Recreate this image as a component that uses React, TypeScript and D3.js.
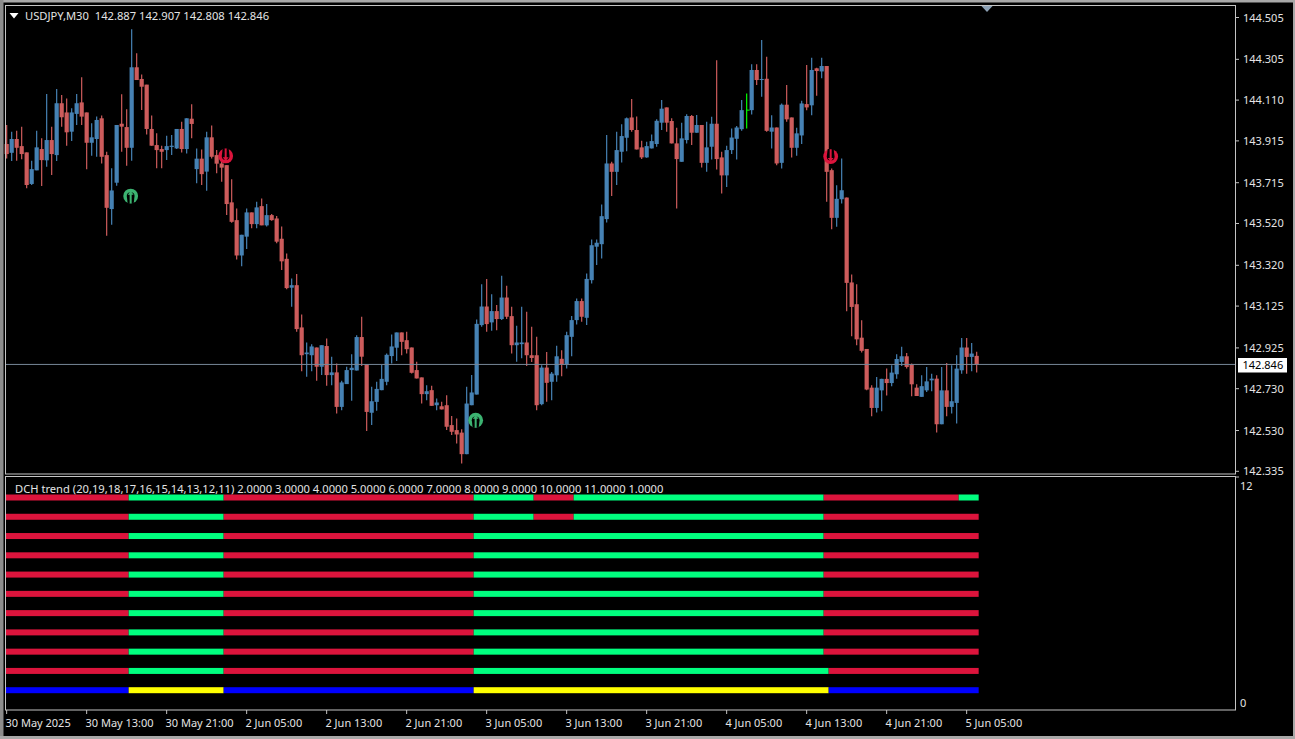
import * as d3 from "d3";

// MT4 chart, USDJPY M30, one row per 10 bars
const opens = [
  143.900, 143.858, 143.924, 143.890, 143.860, 143.709, 143.774, 143.876, 143.822, 143.919,
  143.847, 144.095, 144.051, 143.959, 144.044, 144.099, 144.051, 143.906, 143.924, 144.023,
  143.847, 143.589, 143.715, 143.997, 143.981, 143.882, 144.267, 144.211, 144.184, 143.972,
  143.895, 143.876, 143.871, 143.886, 143.879, 143.972, 143.876, 144.021, 143.780, 143.830,
  143.768, 143.932, 143.847, 143.807, 143.799, 143.621, 143.536, 143.367, 143.457, 143.573,
  143.517, 143.603, 143.511, 143.560, 143.544, 143.447, 143.351, 143.213, 143.225, 143.023,
  142.895, 142.890, 142.927, 142.835, 142.934, 142.795, 142.808, 142.643, 142.752, 142.819,
  142.817, 142.977, 142.847, 142.615, 142.667, 142.723, 142.763, 142.886, 142.926, 142.999,
  142.962, 142.927, 142.819, 142.784, 142.704, 142.723, 142.651, 142.646, 142.651, 142.556,
  142.532, 142.520, 142.417, 142.651, 142.702, 143.034, 143.123, 143.047, 143.101, 143.063,
  143.166, 143.077, 142.938, 142.943, 142.951, 142.890, 142.890, 142.656, 142.831, 142.763,
  142.794, 142.873, 142.847, 142.978, 143.058, 143.149, 143.069, 143.249, 143.409, 143.421,
  143.541, 143.807, 143.767, 143.863, 143.930, 144.027, 143.967, 143.884, 143.836, 143.879,
  143.900, 144.002, 144.075, 144.010, 143.903, 143.815, 143.919, 144.034, 143.954, 143.991,
  143.810, 143.887, 143.997, 143.836, 143.750, 143.871, 143.925, 143.971, 144.062, 144.062,
  144.254, 144.206, 144.212, 143.959, 143.979, 143.810, 144.088, 144.027, 143.882, 143.941,
  144.091, 144.085, 144.262, 144.247, 144.273, 143.775, 143.547, 143.636, 143.644, 143.238,
  143.134, 142.974, 142.920, 142.735, 142.638, 142.722, 142.777, 142.757, 142.799, 142.858,
  142.885, 142.845, 142.735, 142.691, 142.722, 142.770, 142.778, 142.560, 142.722, 142.643,
  142.662, 142.818, 142.927, 142.882, 142.887,
];
const highs = [
  143.991, 143.959, 143.964, 143.983, 143.860, 143.820, 143.964, 143.927, 144.139, 143.983,
  144.163, 144.134, 144.118, 144.071, 144.139, 144.219, 144.051, 143.999, 144.031, 144.036,
  143.863, 143.784, 143.991, 144.138, 144.066, 144.449, 144.334, 144.233, 144.184, 144.036,
  143.951, 143.892, 143.940, 143.943, 143.972, 144.007, 144.023, 144.090, 143.879, 143.874,
  143.959, 143.988, 143.871, 143.863, 143.799, 143.731, 143.592, 143.466, 143.592, 143.573,
  143.624, 143.640, 143.613, 143.565, 143.556, 143.505, 143.377, 143.257, 143.278, 143.085,
  142.951, 142.943, 142.927, 142.938, 142.970, 142.883, 142.851, 142.768, 142.835, 142.895,
  142.986, 143.074, 142.847, 142.739, 142.763, 142.843, 142.898, 142.989, 142.999, 142.999,
  143.002, 142.927, 142.859, 142.784, 142.747, 142.744, 142.683, 142.667, 142.699, 142.600,
  142.587, 142.536, 142.739, 142.795, 143.061, 143.230, 143.254, 143.182, 143.130, 143.270,
  143.222, 143.122, 143.031, 143.122, 143.098, 143.026, 142.978, 142.842, 142.906, 142.810,
  142.935, 142.914, 143.002, 143.078, 143.161, 143.161, 143.281, 143.444, 143.444, 143.611,
  143.943, 143.815, 143.959, 143.994, 144.027, 144.115, 144.031, 143.916, 143.911, 143.946,
  144.018, 144.110, 144.075, 144.023, 143.978, 144.002, 144.042, 144.039, 144.039, 143.991,
  144.006, 144.030, 144.301, 143.863, 143.892, 143.974, 143.986, 144.110, 144.142, 144.282,
  144.282, 144.397, 144.317, 144.038, 143.979, 144.094, 144.182, 144.027, 143.978, 144.107,
  144.278, 144.313, 144.265, 144.313, 144.273, 143.783, 143.703, 143.831, 143.644, 143.276,
  143.230, 143.057, 142.920, 142.746, 142.786, 142.778, 142.826, 142.842, 142.895, 142.930,
  142.901, 142.850, 142.751, 142.794, 142.834, 142.802, 142.794, 142.834, 142.853, 142.842,
  142.890, 142.973, 142.973, 142.949, 142.907,
];
const lows = [
  143.831, 143.819, 143.820, 143.827, 143.688, 143.704, 143.774, 143.699, 143.791, 143.752,
  143.819, 143.983, 143.892, 143.914, 143.991, 143.991, 143.779, 143.844, 143.839, 143.807,
  143.461, 143.514, 143.701, 143.863, 143.796, 143.820, 144.206, 144.063, 143.946, 143.892,
  143.784, 143.784, 143.823, 143.847, 143.876, 143.860, 143.855, 143.927, 143.712, 143.704,
  143.677, 143.831, 143.760, 143.720, 143.560, 143.524, 143.348, 143.316, 143.398, 143.497,
  143.497, 143.511, 143.505, 143.533, 143.425, 143.297, 143.205, 143.122, 143.002, 142.814,
  142.787, 142.814, 142.768, 142.795, 142.744, 142.747, 142.611, 142.627, 142.752, 142.672,
  142.817, 142.839, 142.528, 142.556, 142.624, 142.723, 142.747, 142.851, 142.862, 142.890,
  142.898, 142.803, 142.779, 142.659, 142.675, 142.648, 142.627, 142.631, 142.532, 142.508,
  142.468, 142.372, 142.417, 142.651, 142.702, 143.026, 143.002, 143.007, 143.010, 143.058,
  143.063, 142.898, 142.859, 142.875, 142.839, 142.858, 142.627, 142.651, 142.667, 142.675,
  142.763, 142.790, 142.826, 142.885, 143.037, 143.050, 143.034, 143.233, 143.321, 143.353,
  143.525, 143.651, 143.704, 143.812, 143.866, 143.959, 143.874, 143.828, 143.834, 143.879,
  143.887, 143.967, 143.959, 143.903, 143.592, 143.815, 143.903, 143.895, 143.954, 143.788,
  143.767, 143.826, 143.778, 143.663, 143.695, 143.852, 143.826, 143.963, 143.974, 144.041,
  144.182, 144.126, 143.959, 143.879, 143.799, 143.783, 144.006, 143.836, 143.844, 143.900,
  144.062, 144.038, 144.131, 144.214, 143.624, 143.493, 143.504, 143.616, 143.100, 142.981,
  142.938, 142.903, 142.722, 142.598, 142.616, 142.622, 142.698, 142.742, 142.778, 142.839,
  142.826, 142.694, 142.695, 142.691, 142.714, 142.718, 142.520, 142.560, 142.598, 142.611,
  142.563, 142.802, 142.802, 142.813, 142.808,
];
const closes = [
  143.852, 143.924, 143.882, 143.852, 143.704, 143.780, 143.884, 143.823, 143.919, 143.852,
  144.095, 144.028, 143.956, 144.051, 144.095, 144.031, 143.906, 143.932, 144.015, 143.839,
  143.595, 143.678, 143.991, 143.983, 143.882, 144.267, 144.206, 144.174, 143.972, 143.892,
  143.871, 143.863, 143.890, 143.892, 143.972, 143.876, 144.023, 143.996, 143.830, 143.756,
  143.932, 143.839, 143.806, 143.787, 143.613, 143.528, 143.367, 143.466, 143.573, 143.517,
  143.597, 143.511, 143.560, 143.536, 143.433, 143.339, 143.211, 143.225, 143.015, 142.890,
  142.903, 142.932, 142.835, 142.938, 142.795, 142.808, 142.643, 142.760, 142.819, 142.830,
  142.977, 142.883, 142.619, 142.670, 142.729, 142.777, 142.892, 142.932, 142.999, 142.954,
  142.919, 142.806, 142.779, 142.704, 142.718, 142.648, 142.664, 142.631, 142.548, 142.524,
  142.511, 142.417, 142.659, 142.712, 143.040, 143.123, 143.039, 143.101, 143.063, 143.166,
  143.074, 142.938, 142.951, 142.951, 142.890, 142.877, 142.651, 142.831, 142.758, 142.802,
  142.885, 142.847, 142.986, 143.058, 143.149, 143.074, 143.255, 143.416, 143.428, 143.555,
  143.807, 143.767, 143.871, 143.938, 144.023, 143.967, 143.874, 143.836, 143.890, 143.914,
  144.011, 144.069, 144.002, 143.903, 143.828, 143.927, 144.034, 143.954, 143.991, 143.810,
  143.884, 143.997, 143.828, 143.750, 143.871, 143.931, 143.979, 144.062, 144.062, 144.254,
  144.206, 144.211, 143.963, 143.979, 143.807, 144.088, 144.018, 143.882, 143.951, 144.094,
  144.075, 144.254, 144.249, 144.273, 143.767, 143.547, 143.638, 143.679, 143.236, 143.121,
  142.966, 142.911, 142.726, 142.638, 142.735, 142.777, 142.757, 142.807, 142.872, 142.885,
  142.834, 142.751, 142.695, 142.742, 142.765, 142.778, 142.560, 142.722, 142.643, 142.670,
  142.826, 142.927, 142.882, 142.898, 142.846,
];

const priceTicks = [144.505, 144.305, 144.11, 143.915, 143.715, 143.52, 143.32, 143.125, 142.925, 142.73, 142.53, 142.335];
const lastPrice = 142.846;

// bar index of every 16th bar along the time axis
const timeLabels = [
  "30 May 2025", "30 May 13:00", "30 May 21:00", "2 Jun 05:00", "2 Jun 13:00", "2 Jun 21:00", "3 Jun 05:00",
  "3 Jun 13:00", "3 Jun 21:00", "4 Jun 05:00", "4 Jun 13:00", "4 Jun 21:00", "5 Jun 05:00",
];

const upSignals = [
  { bar: 25, price: 143.651 },
  { bar: 94, price: 142.579 },
];
const downSignals = [
  { bar: 44, price: 143.843 },
  { bar: 165, price: 143.84 },
];

// DCH trend lines: level, then the bars where the colour flips (starts down)
const trendLevels = [11, 10, 9, 8, 7, 6, 5, 4, 3, 2];
const trendFlips = [
  [25, 44, 94, 106, 114, 164, 191],
  [25, 44, 94, 106, 114, 164],
  [25, 44, 94, 164],
  [25, 44, 94, 164],
  [25, 44, 94, 164],
  [25, 44, 94, 164],
  [25, 44, 94, 164],
  [25, 44, 94, 164],
  [25, 44, 94, 164],
  [25, 44, 94, 165],
];
const sumLevel = 1;
const sumFlips = [25, 44, 94, 165];

const legend = "DCH trend (20,19,18,17,16,15,14,13,12,11) 2.0000 3.0000 4.0000 5.0000 6.0000 7.0000 8.0000 9.0000 10.0000 11.0000 1.0000";

const W = 1295;
const H = 739;
const FONT = "'Noto Sans', sans-serif";
const TXT = "#e4e4e4";
const FRAME = "#c4c4c4";
const UP = "#4682B4";
const DOWN = "#CD5C5C";

const x = d3.scaleLinear().domain([0, 194]).range([6.67, 976.67]);
const y = d3.scaleLinear().domain([142.335, 144.505]).range([471.3, 17.5]);
const ySub = d3.scaleLinear().domain([1, 11]).range([690.2, 497.5]);

function segments(flips: number[]) {
  const edges = [0, ...flips, 195];
  return d3.pairs(edges).map(([a, b], k) => ({ a, b, on: k % 2 === 1 }));
}

function segLeft(i: number) {
  return i === 0 ? 6 : x(i) - 3;
}

function Signal({ bar, price, up, color }: { bar: number; price: number; up: boolean; color: string }) {
  return (
    <g transform={`translate(${x(bar) - 1},${y(price)}) scale(1,${up ? 1 : -1})`}>
      <circle r={7.4} fill={color} />
      <path d="M-3.9,0 A3.9,3.9 0 0 1 3.9,0 L3,7.6 L-3,7.6 Z" fill="#000" />
      <path d="M0,-5 L3,-1.4 L1,-1.4 L1,7.4 L-1,7.4 L-1,-1.4 L-3,-1.4 Z" fill={color} />
    </g>
  );
}

export default function App() {
  document.body.style.margin = "0";
  const lastY = y(lastPrice);
  return (
    <svg width={W} height={H} style={{ position: "absolute", left: 0, top: 0, display: "block" }} fontFamily={FONT} fontSize={11}>
      <rect width={W} height={H} fill="#000" />
      {/* window chrome */}
      <rect x={0} y={0} width={W} height={2.5} fill="#a8a8a8" />
      <rect x={0} y={0} width={3.5} height={H} fill="#8c8c8c" />
      <rect x={0} y={736} width={W} height={3} fill="#a8a8a8" />
      <rect x={1293} y={0} width={2} height={H} fill="#a8a8a8" />

      {/* candles */}
      {opens.map((o, i) => {
        const c = closes[i];
        const flat = o === c;
        const col = flat ? "#00FF00" : c > o ? UP : DOWN;
        const top = y(Math.max(o, c));
        const bottom = y(Math.min(o, c));
        return (
          <g key={i}>
            <line x1={x(i)} x2={x(i)} y1={y(highs[i])} y2={y(lows[i])} stroke={col} strokeWidth={1.2} />
            {flat ? (
              <line x1={x(i)} x2={x(i) + 3} y1={top} y2={top} stroke={col} strokeWidth={1} />
            ) : (
              <rect x={x(i) - 2.1} y={top} width={4.2} height={Math.max(bottom - top, 1)} fill={col} />
            )}
          </g>
        );
      })}

      {upSignals.map((s) => (
        <Signal key={s.bar} bar={s.bar} price={s.price} up color="#3CB371" />
      ))}
      {downSignals.map((s) => (
        <Signal key={s.bar} bar={s.bar} price={s.price} up={false} color="#DC143C" />
      ))}

      {/* last price line */}
      <line x1={6} x2={1235} y1={lastY} y2={lastY} stroke="#778899" strokeWidth={1} />

      {/* header */}
      <path d="M9.5,13 L18.5,13 L14,18.5 Z" fill="#fff" />
      <text x={25} y={20} fill={TXT} fontSize={11.2} xmlSpace="preserve">USDJPY,M30  142.887 142.907 142.808 142.846</text>
      <path d="M981,5.5 L993,5.5 L987,12 Z" fill="#8ca0b4" />

      {/* panel frames */}
      <rect x={5.5} y={5.5} width={1230} height={468.5} fill="none" stroke={FRAME} />
      <rect x={5.5} y={476.5} width={1230} height={233.5} fill="none" stroke={FRAME} />

      {/* price axis */}
      {priceTicks.map((p) => (
        <g key={p}>
          <line x1={1236} x2={1239} y1={y(p)} y2={y(p)} stroke={FRAME} />
          <text x={1243} y={y(p) + 4} fill={TXT}>{p.toFixed(3)}</text>
        </g>
      ))}
      <rect x={1238} y={358} width={49} height={14.5} fill="#fff" />
      <text x={1242.5} y={lastY + 4.5} fill="#000">{lastPrice.toFixed(3)}</text>

      {/* DCH trend */}
      <text x={15} y={493} fill={TXT} fontSize={11.18}>{legend}</text>
      {trendLevels.map((lvl, r) =>
        segments(trendFlips[r]).map((s) => (
          <rect
            key={`${lvl}-${s.a}`}
            x={segLeft(s.a)}
            y={ySub(lvl) - 3}
            width={x(s.b - 1) + 2 - segLeft(s.a)}
            height={6}
            fill={s.on ? "#00FF7F" : "#DC143C"}
          />
        )),
      )}
      {segments(sumFlips).map((s) => (
        <rect
          key={s.a}
          x={segLeft(s.a)}
          y={ySub(sumLevel) - 3}
          width={x(s.b - 1) + 2 - segLeft(s.a)}
          height={6}
          fill={s.on ? "#FFFF00" : "#0000FF"}
        />
      ))}
      <line x1={1236} x2={1239} y1={477} y2={477} stroke={FRAME} />
      <text x={1240} y={490} fill={TXT}>12</text>
      <text x={1240} y={707} fill={TXT}>0</text>

      {/* time axis */}
      {timeLabels.map((t, k) => (
        <g key={t}>
          <line x1={x(k * 16)} x2={x(k * 16)} y1={710} y2={714} stroke={FRAME} />
          <text x={x(k * 16) - 1.2} y={726.5} fill={TXT}>{t}</text>
        </g>
      ))}
    </svg>
  );
}
